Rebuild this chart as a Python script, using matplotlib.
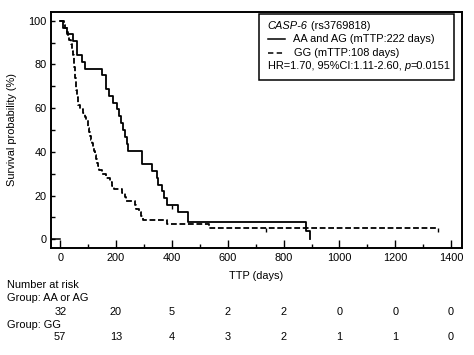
import matplotlib
matplotlib.use("Agg")
import matplotlib.pyplot as plt
import matplotlib.transforms as mtrans
from matplotlib.patches import Rectangle
from matplotlib.lines import Line2D

plt.rcParams['font.family'] = ['Liberation Sans', 'DejaVu Sans']

# ---- data ----
aa_t = [0, 11, 23, 45, 59, 77, 89, 149, 164, 176, 190, 204, 212, 218, 226, 232, 238, 244,
        292, 328, 345, 351, 363, 372, 381, 423, 459, 880, 894]
aa_s = [100, 96.9, 93.8, 90.6, 84.4, 81.3, 78.1, 75.0, 68.8, 65.6, 62.5, 59.4, 56.3, 53.1,
        50.0, 46.9, 43.8, 40.6, 34.4, 31.3, 28.1, 25.0, 21.9, 18.8, 15.6, 12.5, 7.8, 3.9, 0]
aa_cens_t = [401]
aa_cens_s = [15.6]

gg_t = [0, 12, 17, 24, 29, 33, 37, 41, 44, 47, 49, 50, 51, 52, 53, 54, 55, 56, 57, 59, 61,
        63, 65, 72, 82, 88, 94, 98, 101, 104, 108, 111, 114, 117, 120, 124, 127, 131, 135,
        140, 150, 165, 178, 184, 192, 220, 232, 237, 268, 272, 282, 290, 298, 381, 534, 1354]
gg_s = [100, 98.2, 96.5, 94.7, 93.0, 91.2, 89.5, 87.7, 86.0, 84.2, 82.5, 80.7, 78.9, 77.2,
        75.4, 73.7, 71.9, 70.2, 68.4, 66.7, 64.9, 63.2, 61.4, 59.6, 57.9, 56.1, 54.4, 52.6,
        50.9, 49.1, 47.4, 45.6, 43.9, 42.1, 40.4, 38.6, 36.8, 35.1, 33.3, 31.6, 29.8, 28.1,
        26.3, 24.6, 22.8, 21.1, 19.3, 17.5, 15.8, 14.0, 12.3, 10.5, 8.8, 7.0, 5.3, 5.3]
gg_cens_t = [737, 1354]
gg_cens_s = [5.3, 5.3]

risk_times = [0, 200, 400, 600, 800, 1000, 1200, 1400]
risk_aa = [32, 20, 5, 2, 2, 0, 0, 0]
risk_gg = [57, 13, 4, 3, 2, 1, 1, 0]

W, H = 474, 355
fig = plt.figure(figsize=(W / 100, H / 100), dpi=100)
L, R, T, B = 51, 462, 12, 248
ax = fig.add_axes([L / W, 1 - B / H, (R - L) / W, (B - T) / H])

def fp(x, y):
    return (x / W, 1 - y / H)

fs = 7.9
lw = 1.3
ax.step(aa_t, aa_s, where='post', color='black', lw=lw)
ax.step(gg_t, gg_s, where='post', color='black', lw=lw, linestyle=(0, (3.2, 1.5)))
ax.plot(aa_cens_t, aa_cens_s, linestyle='none', marker=3, color='black', ms=3, mew=1.0)
ax.plot(gg_cens_t, gg_cens_s, linestyle='none', marker=3, color='black', ms=3, mew=1.0)

ax.set_xlim(-33, 1439)
ax.set_ylim(-4, 104)
ax.plot([-33, 0], [0, 0], color='black', lw=1.1)

ax.set_xticks(risk_times)
ax.set_xticks(range(100, 1400, 200), minor=True)
ax.set_yticks([0, 20, 40, 60, 80, 100])
ax.set_yticks([10, 30, 50, 70, 90], minor=True)
ax.tick_params(axis='both', which='both', direction='in', width=1.0, labelsize=fs,
               colors='black')
ax.tick_params(axis='x', which='major', length=5.8, pad=3.8)
ax.tick_params(axis='x', which='minor', length=2.9)
ax.tick_params(axis='y', which='both', length=2.9, pad=3)
for s in ax.spines.values():
    s.set_linewidth(1.4)

ax.set_ylabel('Survival probability (%)', fontsize=fs)
ax.yaxis.set_label_coords(-0.082, 0.5)
ax.set_xlabel('TTP (days)', fontsize=fs, labelpad=5.5)

# legend box
x0, y0, x1, y1 = 259, 14.3, 454.3, 80
fig.add_artist(Rectangle(fp(x0, y1), (x1 - x0) / W, (y1 - y0) / H,
                         transform=fig.transFigure, facecolor='white',
                         edgecolor='black', lw=1.1, zorder=5))
tx = 267.7
rows = [26.0, 39.3, 52.6, 66.0]

renderer = fig.canvas.get_renderer()

def legend_line(parts, x, y):
    cx = x
    for txt, style in parts:
        t = fig.text(*fp(cx, y), txt, fontsize=fs, style=style, ha='left',
                     va='center', zorder=6)
        bb = t.get_window_extent(renderer)
        cx += bb.width

legend_line([('CASP-6', 'italic'), (' (rs3769818)', 'normal')], tx, rows[0])
fig.text(*fp(293.3, rows[1]), 'AA and AG (mTTP:222 days)', fontsize=fs, ha='left',
         va='center', zorder=6)
fig.text(*fp(294, rows[2]), 'GG (mTTP:108 days)', fontsize=fs, ha='left',
         va='center', zorder=6)
legend_line([('HR=1.70, 95%CI:1.11-2.60, ', 'normal'), ('p', 'italic'),
             ('=0.0151', 'normal')], tx, rows[3])
fig.add_artist(Line2D([268.3 / W, 285 / W], [1 - rows[1] / H] * 2, color='black',
                      lw=1.1, transform=fig.transFigure, zorder=6))
fig.add_artist(Line2D([268.3 / W, 285 / W], [1 - rows[2] / H] * 2, color='black',
                      lw=1.1, linestyle=(0, (3.5, 2.2)), transform=fig.transFigure,
                      zorder=6))

# number at risk table
fig.text(*fp(7.3, 285), 'Number at risk', fontsize=fs, ha='left', va='center')
fig.text(*fp(7.3, 298), 'Group: AA or AG', fontsize=fs, ha='left', va='center')
fig.text(*fp(7.3, 324.5), 'Group: GG', fontsize=fs, ha='left', va='center')
blend = mtrans.blended_transform_factory(ax.transData, fig.transFigure)
for t, a, g in zip(risk_times, risk_aa, risk_gg):
    fig.text(t, 1 - 311.7 / H, str(a), fontsize=fs, ha='center', va='center',
             transform=blend)
    fig.text(t, 1 - 336.7 / H, str(g), fontsize=fs, ha='center', va='center',
             transform=blend)

fig.savefig('out.png', dpi=100)
